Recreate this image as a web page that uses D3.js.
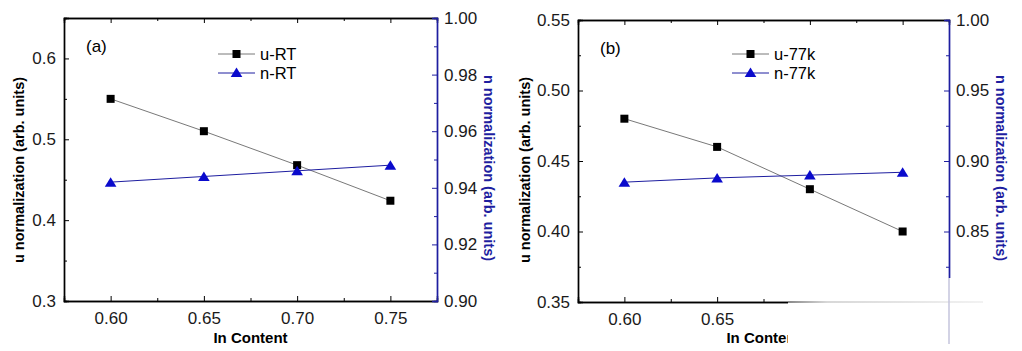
<!DOCTYPE html>
<html>
<head>
<meta charset="utf-8">
<script src="https://cdn.jsdelivr.net/npm/d3@7"></script>
<style>
  body { margin: 0; background: #fff; }
  svg { display: block; font-family: "Liberation Sans", Arial, sans-serif; }
</style>
</head>
<body>
<div id="chart"></div>
<script>
// values
const inContent = [0.60, 0.65, 0.70, 0.75];
const uRT = [0.55, 0.51, 0.468, 0.424];
const nRT = [0.942, 0.944, 0.946, 0.948];
const u77k = [0.48, 0.46, 0.43, 0.40];
const n77k = [0.885, 0.888, 0.890, 0.892];

const xTicks = [0.60, 0.65, 0.70, 0.75];
const xMinor = [0.625, 0.675, 0.725];
const leftTicksA = [0.3, 0.4, 0.5, 0.6];
const leftMinorA = [0.35, 0.45, 0.55];
const rightTicksA = [0.90, 0.92, 0.94, 0.96, 0.98, 1.00];
const rightMinorA = [0.91, 0.93, 0.95, 0.97, 0.99];
const leftTicksB = [0.35, 0.40, 0.45, 0.50, 0.55];
const leftMinorB = [0.375, 0.425, 0.475, 0.525];
const rightTicksB = [0.80, 0.85, 0.90, 0.95, 1.00];
const rightMinorB = [0.825, 0.875, 0.925, 0.975];

const W = 1022, H = 351;
const BLUE = "#1e1ea0";
const MARK_BLUE = "#0a0acc";

const svg = d3.select("#chart").append("svg")
  .attr("width", W)
  .attr("height", H);

// triangle centred on its bounding box
function tri(cx, cy, s) {
  return "M" + cx + "," + (cy - s * 0.5) + "L" + (cx + s * 0.58) + "," + (cy + s * 0.45) +
    "L" + (cx - s * 0.58) + "," + (cy + s * 0.45) + "Z";
}

function drawPanel(p) {
  const x = d3.scaleLinear().domain([0.575, 0.775]).range([p.left, p.right]);
  const yL = d3.scaleLinear().domain(p.yLdom).range([p.bottom, p.top]);
  const yR = d3.scaleLinear().domain(p.yRdom).range([p.bottom, p.top]);
  const g = svg.append("g");

  // bottom axis
  g.append("g").attr("transform", "translate(0," + p.bottom + ")")
    .call(d3.axisBottom(x).tickValues(xTicks).tickSize(-5).tickPadding(11).tickFormat(d3.format(".2f")));
  g.append("g").attr("transform", "translate(0," + p.bottom + ")")
    .call(d3.axisBottom(x).tickValues(xMinor).tickSize(-3).tickFormat(""));
  // top axis (ticks only)
  g.append("g").attr("transform", "translate(0," + p.top + ")")
    .call(d3.axisTop(x).tickValues(xTicks).tickSize(-5).tickFormat(""));
  g.append("g").attr("transform", "translate(0," + p.top + ")")
    .call(d3.axisTop(x).tickValues(xMinor).tickSize(-3).tickFormat(""));
  // left axis
  g.append("g").attr("transform", "translate(" + p.left + ",0)")
    .call(d3.axisLeft(yL).tickValues(p.lTicks).tickSize(-5).tickPadding(8).tickFormat(d3.format(p.lFmt)));
  g.append("g").attr("transform", "translate(" + p.left + ",0)")
    .call(d3.axisLeft(yL).tickValues(p.lMinor).tickSize(-3).tickFormat(""));
  // right axis
  g.append("g").attr("class", "raxis").attr("transform", "translate(" + p.right + ",0)")
    .call(d3.axisRight(yR).tickValues(p.rTicks).tickSize(-5).tickPadding(7).tickFormat(d3.format(".2f")));
  g.append("g").attr("class", "raxis").attr("transform", "translate(" + p.right + ",0)")
    .call(d3.axisRight(yR).tickValues(p.rMinor).tickSize(-3).tickFormat(""));

  g.selectAll(".domain").attr("stroke", "#000").attr("stroke-width", 1.4);
  g.selectAll(".tick line").attr("stroke", "#000").attr("stroke-width", 1);
  g.selectAll(".raxis .domain").attr("stroke", BLUE);
  g.selectAll(".raxis .tick line").attr("stroke", BLUE);
  g.selectAll(".tick text").attr("font-size", "17px").attr("fill", "#1a1a1a")
    .attr("font-family", "Liberation Sans, Arial, sans-serif");

  // axis titles
  g.append("text")
    .attr("x", (p.left + p.right) / 2).attr("y", 343)
    .attr("text-anchor", "middle").attr("font-weight", "bold").attr("font-size", "15px")
    .text("In Content");
  g.append("text")
    .attr("transform", "translate(" + p.lTitleX + "," + 170 + ") rotate(-90)")
    .attr("text-anchor", "middle").attr("font-weight", "bold").attr("font-size", "14.5px")
    .text("u normalization (arb. units)");
  g.append("text")
    .attr("transform", "translate(" + p.rTitleX + "," + 168 + ") rotate(90)")
    .attr("text-anchor", "middle").attr("font-weight", "bold").attr("font-size", "14.5px")
    .attr("fill", BLUE)
    .text("n normalization (arb. units)");

  g.append("text")
    .attr("x", p.left + 22).attr("y", p.top + 34)
    .attr("font-size", "17px")
    .text(p.tag);

  // series
  const lineU = d3.line().x((d, i) => x(inContent[i])).y(d => yL(d));
  const lineN = d3.line().x((d, i) => x(inContent[i])).y(d => yR(d));
  g.append("path").attr("d", lineU(p.u)).attr("fill", "none")
    .attr("stroke", "#555").attr("stroke-width", 0.8);
  g.append("path").attr("d", lineN(p.n)).attr("fill", "none")
    .attr("stroke", BLUE).attr("stroke-width", 1);
  g.selectAll(".sq").data(p.u).enter().append("rect")
    .attr("x", (d, i) => x(inContent[i]) - 4).attr("y", d => yL(d) - 4)
    .attr("width", 8).attr("height", 8).attr("fill", "#000");
  g.selectAll(".tr").data(p.n).enter().append("path")
    .attr("d", (d, i) => tri(x(inContent[i]), yR(d), 10))
    .attr("fill", MARK_BLUE);

  // legend
  const lx = p.legX;
  g.append("line").attr("x1", lx).attr("x2", lx + 37).attr("y1", 54).attr("y2", 54)
    .attr("stroke", "#555").attr("stroke-width", 0.8);
  g.append("rect").attr("x", lx + 14.5).attr("y", 50).attr("width", 8).attr("height", 8).attr("fill", "#000");
  g.append("text").attr("x", lx + 42).attr("y", 60).attr("font-size", "16.5px").text(p.uName);
  g.append("line").attr("x1", lx).attr("x2", lx + 37).attr("y1", 73).attr("y2", 73)
    .attr("stroke", BLUE).attr("stroke-width", 1);
  g.append("path").attr("d", tri(lx + 18.5, 72.5, 10)).attr("fill", MARK_BLUE);
  g.append("text").attr("x", lx + 42).attr("y", 79).attr("font-size", "16.5px").text(p.nName);
}

drawPanel({
  left: 64, right: 437, top: 18, bottom: 301,
  yLdom: [0.3, 0.65], yRdom: [0.90, 1.00],
  lTicks: leftTicksA, lMinor: leftMinorA, lFmt: ".1f",
  rTicks: rightTicksA, rMinor: rightMinorA,
  lTitleX: 24, rTitleX: 484,
  tag: "(a)", legX: 218, uName: "u-RT", nName: "n-RT",
  u: uRT, n: nRT
});

drawPanel({
  left: 578, right: 949, top: 20, bottom: 302,
  yLdom: [0.35, 0.55], yRdom: [0.80, 1.00],
  lTicks: leftTicksB, lMinor: leftMinorB, lFmt: ".2f",
  rTicks: rightTicksB, rMinor: rightMinorB,
  lTitleX: 530, rTitleX: 996,
  tag: "(b)", legX: 732, uName: "u-77k", nName: "n-77k",
  u: u77k, n: n77k
});

// washed-out corner of panel (b)
const defs = svg.append("defs");
const grad = defs.append("linearGradient").attr("id", "fade").attr("x1", "0").attr("x2", "1");
grad.append("stop").attr("offset", "0").attr("stop-color", "#888");
grad.append("stop").attr("offset", "0.2").attr("stop-color", "#d8d8d8");
grad.append("stop").attr("offset", "1").attr("stop-color", "#f2f2f2");
svg.append("rect").attr("x", 788).attr("y", 295).attr("width", W - 788).attr("height", H - 295).attr("fill", "#fff");
svg.append("rect").attr("x", 940).attr("y", 278).attr("width", W - 940).attr("height", 24).attr("fill", "#fff");
svg.append("rect").attr("x", 788).attr("y", 301).attr("width", 195).attr("height", 2).attr("fill", "url(#fade)");
svg.append("line").attr("x1", 949).attr("x2", 949).attr("y1", 278).attr("y2", 344)
  .attr("stroke", "#c4c4dc").attr("stroke-width", 1.5);
</script>
</body>
</html>
